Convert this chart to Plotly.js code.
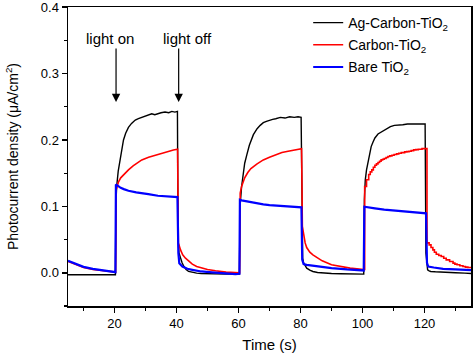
<!DOCTYPE html>
<html>
<head>
<meta charset="utf-8">
<script src="https://cdn.plot.ly/plotly-3.0.1.min.js"></script>
<style>
  html, body { margin: 0; padding: 0; background: #fff; }
  #chart { width: 474px; height: 355px; }
</style>
</head>
<body>
<div id="chart"></div>
<script>
// Photocurrent response [time (s), density (uA/cm2)] under chopped illumination
const agCarbonTiO2 = [
  [5,-0.003],[8,-0.003],[11,-0.003],[14,-0.003],[17,-0.003],[20.3,-0.003],
  [20.45,0.105],[20.7,0.13],[21.2,0.153],[21.8,0.17],[22.3,0.186],[22.9,0.2],[23.6,0.21],
  [24.5,0.219],[25.5,0.225],[26.7,0.23],[27.7,0.232],[28.8,0.234],[30,0.236],[31,0.238],
  [32,0.2395],[33,0.238],[34,0.24],[35,0.241],[36.3,0.242],[37.5,0.241],[38.5,0.243],
  [39.5,0.242],[40.3,0.243],
  [40.5,0.05],[40.8,0.03],[41.3,0.022],[41.8,0.015],[42.4,0.0095],[43.1,0.005],[43.9,0.002],
  [45,0.0005],[46.5,-0.0005],[48,-0.001],[50,-0.0015],[53,-0.002],[56,-0.002],[60.3,-0.002],
  [60.5,0.1],[61,0.13],[61.5,0.152],[62,0.165],[62.7,0.178],[63.5,0.192],[64.8,0.208],
  [66,0.217],[67,0.222],[68,0.226],[69,0.228],[70,0.23],[71,0.231],[72,0.232],[73.5,0.234],
  [75,0.233],[76.5,0.235],[78,0.234],[79.2,0.235],[80.2,0.234],
  [80.45,0.04],[80.7,0.022],[81,0.015],[81.5,0.01],[82,0.007],[83,0.004],[84,0.002],
  [85.5,0.0005],[87.5,-0.0005],[90,-0.001],[93,-0.0015],[96,-0.002],[100.4,-0.002],
  [100.6,0.11],[100.9,0.14],[101.3,0.155],[101.8,0.168],[102.3,0.18],[102.8,0.19],
  [103.4,0.197],[104,0.203],[105,0.209],[106,0.212],[107,0.215],[108,0.218],[109,0.22],
  [110.3,0.222],[111.5,0.222],[113,0.223],[114.5,0.224],[116,0.224],[117,0.225],
  [118,0.2245],[119,0.225],[120.2,0.224],
  [120.45,0.03],[120.7,0.012],[121,0.0045],[121.5,0.003],[122,0.002],[123.5,0.0015],
  [125,0.001],[127.5,0.0005],[130,0],[133,-0.0005],[135,-0.001]
];

const carbonTiO2 = [
  [5,0.017],[7,0.013],[10,0.008],[13,0.005],[16,0.003],[18,0.002],[20.35,0.001],
  [20.55,0.125],[21.3,0.137],[22,0.143],[23,0.148],[24.5,0.155],[26,0.161],[27.5,0.166],
  [28.8,0.17],[31,0.174],[33.1,0.177],[35,0.18],[37.4,0.183],[39,0.185],[40.35,0.186],
  [40.6,0.045],[41.3,0.0345],[42,0.027],[42.9,0.022],[44,0.017],[45.1,0.013],[46.5,0.0095],
  [48.3,0.007],[50,0.005],[52.6,0.003],[56,0.001],[60.35,0],
  [60.55,0.12],[61,0.13],[62,0.143],[63,0.151],[64,0.157],[66,0.164],[68,0.17],[70,0.174],
  [72,0.178],[74,0.181],[76,0.183],[78,0.185],[80.35,0.187],
  [80.6,0.07],[81,0.055],[81.5,0.045],[82,0.038],[83,0.031],[84,0.027],[85,0.024],
  [87,0.018],[90,0.012],[93,0.0095],[96,0.007],[100.4,0.005]
];

// third light cycle of Carbon-TiO2 was logged at a coarser step (drawn as a staircase)
const carbonTiO2Cycle3 = [
  [100.4,0.005],[100.7,0.13],[101.3,0.14],[102,0.148],[102.5,0.152],[103,0.155],[103.5,0.159],
  [104,0.162],[104.5,0.164],[105,0.166],[105.5,0.168],[106,0.17],[106.5,0.171],[107,0.172],
  [107.6,0.1735],[108.2,0.175],[108.8,0.176],[109.5,0.177],[110.2,0.178],[111,0.179],
  [111.7,0.18],[112.5,0.181],[113.6,0.182],[114.3,0.1825],[115,0.183],[115.7,0.184],
  [116.5,0.185],[117.2,0.1855],[118,0.186],[119.2,0.187],[120.6,0.187],
  [120.8,0.045],[121.5,0.042],[122.1,0.038],[122.7,0.0345],[123.2,0.031],[123.8,0.028],
  [124.6,0.026],[125.4,0.0245],[126.2,0.022],[127,0.0195],[128.1,0.017],[129.2,0.0145],
  [129.8,0.013],[130.5,0.012],[131.4,0.0105],[132.4,0.0095],[133.2,0.0085],[134,0.008],
  [135,0.0075]
];

const bareTiO2 = [
  [5,0.018],[7,0.014],[10,0.009],[13,0.006],[16,0.004],[18,0.003],[20.3,0.001],
  [20.45,0.133],[21,0.131],[22,0.128],[23,0.126],[24.5,0.1235],[27,0.121],[29,0.12],
  [30.9,0.1185],[34,0.116],[37.4,0.1145],[40.3,0.114],
  [40.6,0.03],[40.9,0.0145],[41.9,0.0095],[43.5,0.006],[45.1,0.0045],[48,0.002],
  [51.5,0.0005],[55,-0.001],[59,-0.002],[60.3,-0.0015],
  [60.45,0.11],[61,0.109],[62,0.108],[64,0.106],[66,0.104],[68,0.103],[70,0.102],
  [74,0.101],[77,0.1],[80.3,0.0985],
  [80.55,0.02],[81,0.013],[82,0.012],[85,0.01],[90,0.007],[95,0.005],[100.4,0.0035],
  [100.6,0.0995],[102,0.098],[104,0.097],[107,0.095],[110,0.094],[113,0.0925],[116,0.091],
  [120.5,0.0895],
  [120.8,0.015],[121.2,0.0095],[123,0.008],[126,0.006],[130,0.005],[135,0.004]
];

const seriesNames = ['Ag-Carbon-TiO<sub>2</sub>', 'Carbon-TiO<sub>2</sub>', 'Bare TiO<sub>2</sub>'];
const xTicks = [20, 40, 60, 80, 100, 120];
const yTicks = [0.0, 0.1, 0.2, 0.3, 0.4];
const yTickText = ['0.0', '0.1', '0.2', '0.3', '0.4'];

const xs = d => d.map(p => p[0]);
const ys = d => d.map(p => p[1]);

const FONT = 'Liberation Sans, Arial, sans-serif';

const traces = [
  { x: xs(agCarbonTiO2), y: ys(agCarbonTiO2), name: seriesNames[0], legendgroup: 'a',
    type: 'scatter', mode: 'lines', line: { color: '#000000', width: 1.4 } },
  { x: xs(carbonTiO2), y: ys(carbonTiO2), name: seriesNames[1], legendgroup: 'b',
    type: 'scatter', mode: 'lines', line: { color: '#ff0000', width: 1.6 } },
  { x: xs(carbonTiO2Cycle3), y: ys(carbonTiO2Cycle3), name: seriesNames[1], legendgroup: 'b',
    showlegend: false, type: 'scatter', mode: 'lines',
    line: { color: '#ff0000', width: 1.6, shape: 'hv' } },
  { x: xs(bareTiO2), y: ys(bareTiO2), name: seriesNames[2], legendgroup: 'c',
    type: 'scatter', mode: 'lines', line: { color: '#0000ff', width: 2.2 } }
];

const axisCommon = {
  showline: true, linecolor: '#000', linewidth: 1.5, mirror: true,
  ticks: 'outside', ticklen: 5, tickwidth: 1.5, tickcolor: '#000',
  showgrid: false, zeroline: false, ticklabeloverflow: 'allow',
  tickfont: { family: FONT, size: 13, color: '#000' }
};

const layout = {
  width: 474, height: 355,
  margin: { l: 68, r: 3, t: 7, b: 49 },
  paper_bgcolor: '#fff', plot_bgcolor: '#fff',
  showlegend: true,
  legend: {
    x: 0.596, y: 1, xanchor: 'left', yanchor: 'top',
    bgcolor: 'rgba(0,0,0,0)', borderwidth: 0,
    font: { family: FONT, size: 14, color: '#000' },
    traceorder: 'grouped', tracegroupgap: 1
  },
  xaxis: Object.assign({}, axisCommon, {
    range: [5, 135], tickvals: xTicks,
    minor: { dtick: 10, tick0: 0, ticks: 'outside', ticklen: 3, tickwidth: 1.2, tickcolor: '#000' },
    title: { text: 'Time (s)', font: { family: FONT, size: 15, color: '#000' }, standoff: 9 }
  }),
  yaxis: Object.assign({}, axisCommon, {
    range: [-0.05, 0.4002], tickvals: yTicks, ticktext: yTickText,
    minor: { dtick: 0.05, tick0: 0, ticks: 'outside', ticklen: 3, tickwidth: 1.2, tickcolor: '#000' },
    title: { text: 'Photocurrent density (μA/cm<sup>2</sup>)', font: { family: FONT, size: 14, color: '#000' }, standoff: 19 }
  }),
  annotations: [
    { x: 20.5, y: 0.257, ax: 20.5, ay: 0.34, xref: 'x', yref: 'y', axref: 'x', ayref: 'y',
      text: '', showarrow: true, arrowhead: 2, arrowsize: 1.4, arrowwidth: 1.2, arrowcolor: '#000' },
    { x: 40.7, y: 0.257, ax: 40.7, ay: 0.34, xref: 'x', yref: 'y', axref: 'x', ayref: 'y',
      text: '', showarrow: true, arrowhead: 2, arrowsize: 1.4, arrowwidth: 1.2, arrowcolor: '#000' },
    { x: 18.7, y: 0.3525, xref: 'x', yref: 'y', text: 'light on', showarrow: false,
      font: { family: FONT, size: 15, color: '#000' } },
    { x: 43.4, y: 0.3525, xref: 'x', yref: 'y', text: 'light off', showarrow: false,
      font: { family: FONT, size: 15, color: '#000' } }
  ]
};

Plotly.newPlot('chart', traces, layout, { displayModeBar: false, staticPlot: true });
</script>
</body>
</html>
